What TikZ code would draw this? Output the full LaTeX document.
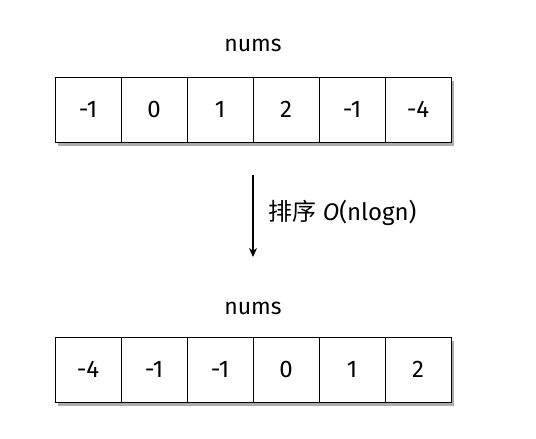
\documentclass[tikz,border=0pt]{standalone}
\usepackage{fontspec}
\setmainfont{Fira Sans}
\newfontfamily\cjk{Noto Sans CJK SC}
\usetikzlibrary{positioning,arrows.meta}

\tikzset{
  cell/.style = {draw, fill = white, shape = rectangle, minimum width = 66pt, minimum height = 65pt, inner sep = 0pt, font = \fontsize{24}{28}\selectfont},
  cellshadow/.style = {fill = gray!65, draw = none, shape = rectangle, minimum width = 396pt, minimum height = 65pt}
}

\begin{document}
\begin{tikzpicture}[x = 1pt, y = 1pt]
\useasboundingbox (0,0) rectangle (536,439);
% top array
\node[cellshadow, anchor = north west] at (58,358) {};
\foreach \v [count = \i] in {-1,0,1,2,-1,-4} {
  \node[cell] (t\i) at (22+66*\i, 329.5) {\v};
}
\node[font = \fontsize{23}{26}\selectfont] (tname) at (253,394) {nums};
% sorting arrow
\coordinate (from) at (253,264);
\coordinate (to) at (253,182);
\coordinate (mid) at (253,226);
\draw[-{Stealth[length = 9pt, width = 8pt]}, line width = 1.2pt] (from) -- (to);
\node[right = 12pt of mid, font = \fontsize{24}{27}\selectfont] (sortlabel) {{\cjk 排序} \textit{O}(nlogn)};
% bottom array
\node[cellshadow, anchor = north west] at (58,98) {};
\foreach \v [count = \i] in {-4,-1,-1,0,1,2} {
  \node[cell] (b\i) at (22+66*\i, 69.5) {\v};
}
\node[font = \fontsize{23}{26}\selectfont] (bname) at (253,131) {nums};
\end{tikzpicture}
\end{document}
